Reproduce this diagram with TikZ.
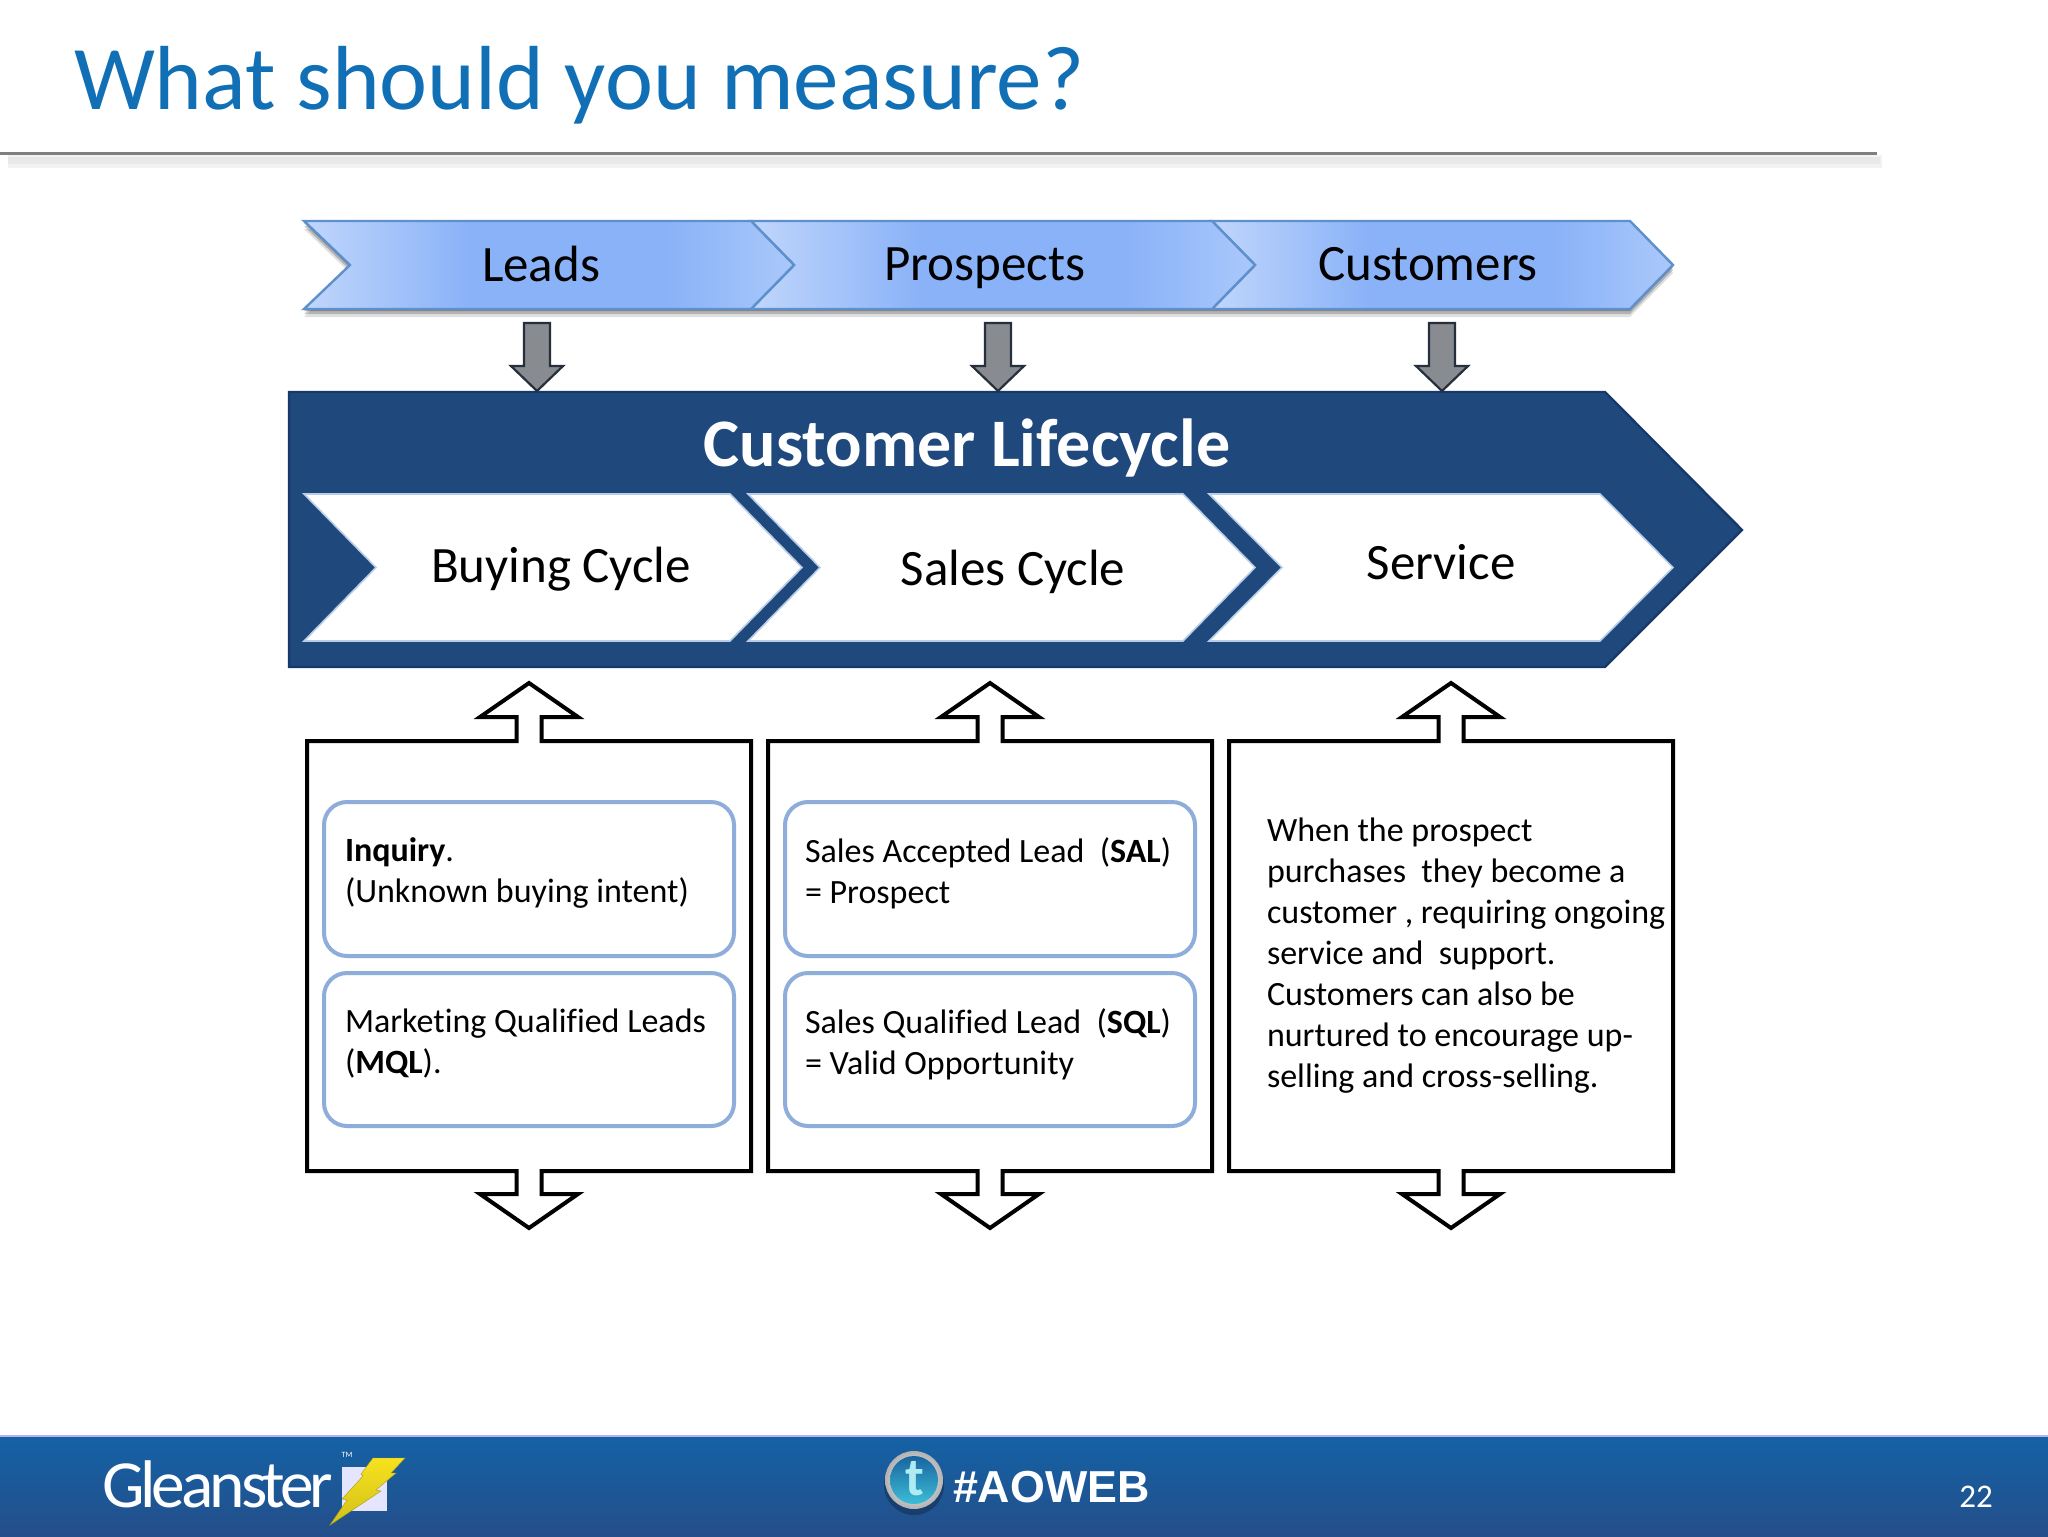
\documentclass[tikz,border=0pt]{standalone}
\usepackage{fontspec}
\setmainfont[Ligatures=NoCommon]{Carlito}
\newfontfamily\arialf{Liberation Sans}
\newfontfamily\glfont[LetterSpace=-6,Ligatures=NoCommon]{Carlito}
\usetikzlibrary{shadings}
\definecolor{titleblue}{HTML}{1170B5}
\definecolor{chevedge}{HTML}{5E90CC}
\definecolor{chevlight}{HTML}{C0D6FC}
\definecolor{chevmid}{HTML}{8AB2F8}
\definecolor{chevend}{HTML}{AAC8FB}
\definecolor{darkband}{HTML}{1F497D}
\definecolor{darkedge}{HTML}{17386A}
\definecolor{roundblue}{HTML}{8EADDB}
\definecolor{arrowedge}{HTML}{262F3C}
\definecolor{arrowout}{HTML}{888B90}
\definecolor{arrowin}{HTML}{C2C4C8}
\definecolor{boltyellow}{HTML}{F7E21E}
\pgfdeclarehorizontalshading{chevshade}{100bp}{color(0bp)=(chevlight); color(25bp)=(chevlight); color(42bp)=(chevmid); color(62bp)=(chevmid); color(75bp)=(chevend); color(100bp)=(chevend)}
\tikzset{
  x=0.5pt,y=-0.5pt,
  txt/.style={inner sep=0pt,outer sep=0pt,text=black},
  headl/.style={txt,font=\fontsize{25.5pt}{30pt}\selectfont},
  bodyl/.style={txt,anchor=north west,align=left,font=\fontsize{17pt}{20.5pt}\selectfont},
  bluechev/.style={draw=chevedge,line width=1.2pt,line join=miter,shading=chevshade,shading angle=0},
  whitechev/.style={fill=white,draw=chevedge!45!white,line width=0.8pt,line join=miter},
  gray arrow/.style={draw=arrowedge,line width=1.1pt,line join=miter,left color=arrowout,middle color=arrowin,right color=arrowout},
  outerbox/.style={draw=black,line width=2pt,fill=white,line join=miter,miter limit=10},
  roundbox/.style={draw=roundblue,line width=2pt,rounded corners=11.5pt,fill=white},
}
\newcommand{\chevshape}[6]{(#1,#5) -- (#3,#5) -- (#4,{(#5+#6)/2}) -- (#3,#6) -- (#1,#6) -- (#2,{(#5+#6)/2}) -- cycle}
\newcommand{\dnarrow}[1]{({#1-13},323) -- ({#1+13},323) -- ({#1+13},366) -- ({#1+26},366) -- (#1,391) -- ({#1-26},366) -- ({#1-13},366) -- cycle}
\newcommand{\colbox}[2]{(#1,741) -- ({#2-12.5},741) -- ({#2-12.5},717) -- ({#2-49},717) -- (#2,683) -- ({#2+49},717) -- ({#2+12.5},717) -- ({#2+12.5},741) -- ({#1+444},741) -- ({#1+444},1171) -- ({#2+12.5},1171) -- ({#2+12.5},1194) -- ({#2+49},1194) -- (#2,1228) -- ({#2-49},1194) -- ({#2-12.5},1194) -- ({#2-12.5},1171) -- (#1,1171) -- cycle}
\begin{document}
\begin{tikzpicture}
\useasboundingbox (0,0) rectangle (2048,1536);
\fill[white] (0,0) rectangle (2048,1536);
% title + rule
\node[txt,anchor=west,text=titleblue,font=\fontsize{45.5pt}{52pt}\selectfont] (title) at (74,85) {What should you measure?};
\fill[black!5] (8,155) rectangle (1882,168);
\fill[black!9] (8,157) rectangle (1880,164);
\draw[draw=black!50,line width=1.4pt] (0,153.5) -- (1877,153.5);
% soft shadows
\foreach \d/\o in {2/.25,5/.2,8/.12}{
  \fill[black,opacity=\o] (304,{221+\d}) -- (1630,{221+\d}) -- (1673,{265+\d}) -- (1630,{309+\d}) -- (304,{309+\d}) -- (350,{265+\d}) -- cycle;
}
% blue chevrons
\path[bluechev] \chevshape{1212}{1255}{1630}{1673}{221}{309};
\path[bluechev] \chevshape{751}{794}{1212}{1255}{221}{309};
\path[bluechev] \chevshape{304}{350}{751}{794}{221}{309};
\node[headl] (leads) at (541,264) {Leads};
\node[headl] (prospects) at (985,268) {Prospects};
\node[headl] (customers) at (1428,264) {Customers};
% dark band
\path[fill=darkband,draw=darkedge,line width=1.2pt,line join=miter] (289,392) -- (1605,392) -- (1742,530) -- (1605,667) -- (289,667) -- cycle;
% grey arrows
\path[gray arrow] \dnarrow{537};
\path[gray arrow] \dnarrow{998};
\path[gray arrow] \dnarrow{1442};
\node[txt,text=white,font=\bfseries\fontsize{34pt}{40pt}\selectfont] (lifecycle) at (967,448) {Customer Lifecycle};
% white chevrons
\path[whitechev] \chevshape{304}{376}{730}{802}{494}{641};
\path[whitechev] \chevshape{748}{820}{1183}{1255}{494}{641};
\path[whitechev] \chevshape{1209}{1282}{1600}{1673}{494}{641};
\node[headl] (buying) at (561,569) {Buying Cycle};
\node[headl] (sales) at (1013,572) {Sales Cycle};
\node[headl] (service) at (1441,562) {Service};
% column boxes with hollow arrows
\path[outerbox] \colbox{307}{529};
\path[outerbox] \colbox{768}{990};
\path[outerbox] \colbox{1229}{1451};
% rounded boxes
\path[roundbox] (324,802) rectangle (734,956);
\path[roundbox] (324,973) rectangle (734,1126);
\path[roundbox] (785,802) rectangle (1195,956);
\path[roundbox] (785,973) rectangle (1195,1126);
\node[bodyl] (inq) at (345,838) {\textbf{Inquiry}.\\(Unknown buying intent)};
\node[bodyl] (mql) at (345,1009) {Marketing Qualified Leads\\(\textbf{MQL}).};
\node[bodyl] (sal) at (805,838) {Sales Accepted Lead\ \ (\textbf{SAL})\\= Prospect};
\node[bodyl] (sql) at (805,1009) {Sales Qualified Lead\ \ (\textbf{SQL})\\= Valid Opportunity};
\node[bodyl] (svc) at (1267,818) {When the prospect\\purchases\ \ they become a\\customer , requiring ongoing\\service and\ \ support.\\Customers can also be\\nurtured to encourage up-\\selling and cross-selling.};
% footer
\shade[top color={rgb,255:red,20;green,98;blue,165},bottom color={rgb,255:red,36;green,78;blue,138}] (0,1436) rectangle (2048,1536);
\fill[black!15!blue!30!white] (0,1434.5) rectangle (2048,1436.5);
% logo
\node[txt,anchor=west,text=white,font=\glfont\fontsize{33.7pt}{38pt}\selectfont] (gleanster) at (102,1484) {Gleanster};
\fill[white!90!blue] (342,1467) rectangle (387,1511);
\node[txt,text=white,font=\fontsize{4pt}{5pt}\selectfont] (tm) at (347,1455) {TM};
\path[top color=boltyellow,bottom color=boltyellow!85!black,draw=boltyellow!70!black,line width=.2pt] (373,1458) -- (405,1458) -- (391,1473) -- (396,1473) -- (376,1490) -- (381,1491) -- (330,1525) -- (347,1500) -- (342,1499) -- (363,1476) -- (361,1474) -- cycle;
% twitter icon
\fill[black,opacity=.25] (914,1485) circle[radius=30];
\shade[inner color=white,outer color=black!30] (914,1480) circle[radius=29];
\shade[top color={rgb,255:red,25;green,100;blue,160},bottom color={rgb,255:red,60;green,190;blue,215}] (914,1480) circle[radius=24];
\node[txt,text={rgb,255:red,175;green,235;blue,242},font=\bfseries\fontsize{27pt}{30pt}\selectfont] (tw) at (915,1479) {t};
\node[txt,anchor=west,text=white,font=\arialf\bfseries\fontsize{22.4pt}{26pt}\selectfont] (tag) at (953,1487) {\#AOWEB};
\node[txt,text=white,font=\fontsize{16.5pt}{19pt}\selectfont] (page) at (1976,1497) {22};
\end{tikzpicture}
\end{document}
